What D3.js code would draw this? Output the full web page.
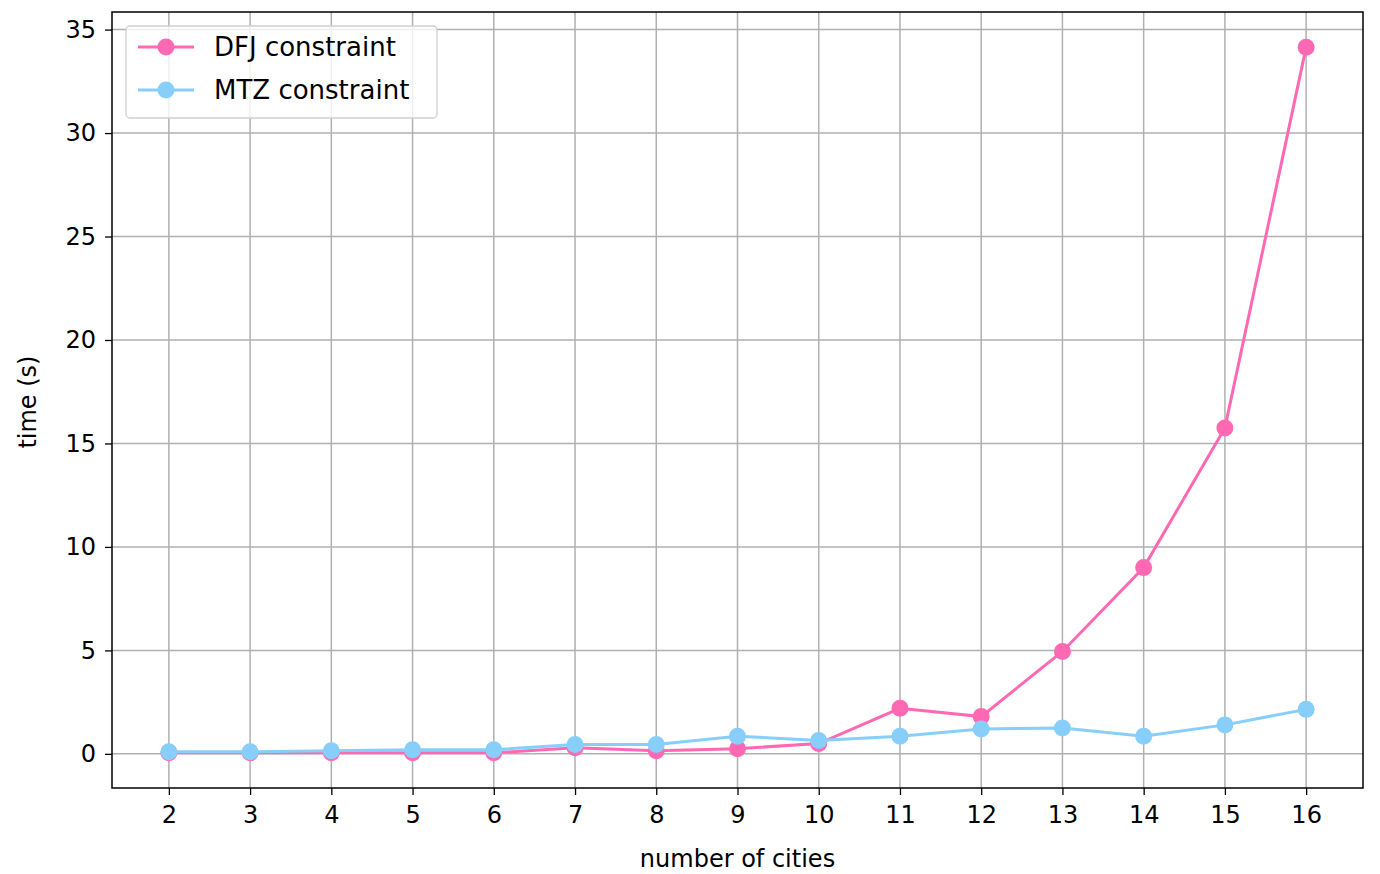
<!DOCTYPE html>
<html><head><meta charset="utf-8">
<script src="https://cdn.jsdelivr.net/npm/d3@7"></script>
<style>body{margin:0;background:#fff}text{font-family:"DejaVu Sans",sans-serif}</style>
</head><body>
<script>
// number of cities
const cities = [2,3,4,5,6,7,8,9,10,11,12,13,14,15,16];
const dfj = [0.05,0.05,0.05,0.05,0.05,0.3,0.15,0.25,0.5,2.2,1.8,4.95,9.0,15.75,34.15];
const mtz = [0.1,0.1,0.15,0.2,0.2,0.45,0.45,0.85,0.65,0.85,1.2,1.25,0.85,1.4,2.15];
const yTicks = [0,5,10,15,20,25,30,35];

const W = 1380, H = 874;
const m = {l:112, r:17, t:12, b:86};
const svg = d3.select("body").append("svg").attr("width", W).attr("height", H);

const x = d3.scaleLinear().domain([1.3, 16.7]).range([m.l, W - m.r]);
const y = d3.scaleLinear().domain([-1.65, 35.85]).range([H - m.b, m.t]);

// grid
svg.append("g").selectAll("line").data(cities).enter().append("line")
  .attr("x1", d => x(d)).attr("x2", d => x(d)).attr("y1", m.t).attr("y2", H - m.b)
  .attr("stroke", "#b0b0b0").attr("stroke-width", 1.5);
svg.append("g").selectAll("line").data(yTicks).enter().append("line")
  .attr("y1", d => y(d)).attr("y2", d => y(d)).attr("x1", m.l).attr("x2", W - m.r)
  .attr("stroke", "#b0b0b0").attr("stroke-width", 1.5);

// axes
const xa = svg.append("g").attr("transform", `translate(0,${H - m.b})`)
  .call(d3.axisBottom(x).tickValues(cities).tickSize(7).tickPadding(11));
const ya = svg.append("g").attr("transform", `translate(${m.l},0)`)
  .call(d3.axisLeft(y).tickValues(yTicks).tickSize(7).tickPadding(9));
[xa, ya].forEach(a => {
  a.select(".domain").remove();
  a.selectAll("line").attr("stroke", "#000").attr("stroke-width", 1.3);
  a.selectAll("text").attr("font-size", 24).attr("fill", "#000").style("font-family", "DejaVu Sans");
});

svg.append("rect").attr("x", m.l).attr("y", m.t).attr("width", W - m.l - m.r).attr("height", H - m.t - m.b)
  .attr("fill", "none").attr("stroke", "#000").attr("stroke-width", 1.5);

svg.append("text").attr("x", x(9)).attr("y", H - 7).attr("text-anchor", "middle")
  .attr("font-size", 24).text("number of cities");
svg.append("text").attr("transform", `translate(36,${y(17)}) rotate(-90)`).attr("text-anchor", "middle")
  .attr("font-size", 24).text("time (s)");

const series = [
  {name: "DFJ constraint", vals: dfj, color: "#ff69b4"},
  {name: "MTZ constraint", vals: mtz, color: "#87cefa"}
];
const line = d3.line().x((d, i) => x(cities[i])).y(d => y(d));
series.forEach(s => {
  svg.append("path").datum(s.vals).attr("d", line).attr("fill", "none")
    .attr("stroke", s.color).attr("stroke-width", 3);
  svg.append("g").selectAll("circle").data(s.vals).enter().append("circle")
    .attr("cx", (d, i) => x(cities[i])).attr("cy", d => y(d)).attr("r", 8.5).attr("fill", s.color);
});

// legend
const lg = svg.append("g").attr("transform", "translate(126,26)");
lg.append("rect").attr("width", 311).attr("height", 92).attr("rx", 4)
  .attr("fill", "#fff").attr("fill-opacity", 0.8).attr("stroke", "#d0d0d0").attr("stroke-width", 1.3);
series.forEach((s, i) => {
  const cy = 21 + i * 43;
  lg.append("line").attr("x1", 12).attr("x2", 68).attr("y1", cy).attr("y2", cy)
    .attr("stroke", s.color).attr("stroke-width", 3);
  lg.append("circle").attr("cx", 40).attr("cy", cy).attr("r", 8.5).attr("fill", s.color);
  lg.append("text").attr("x", 88).attr("y", cy + 9).attr("font-size", 26).text(s.name);
});
</script>
</body></html>
